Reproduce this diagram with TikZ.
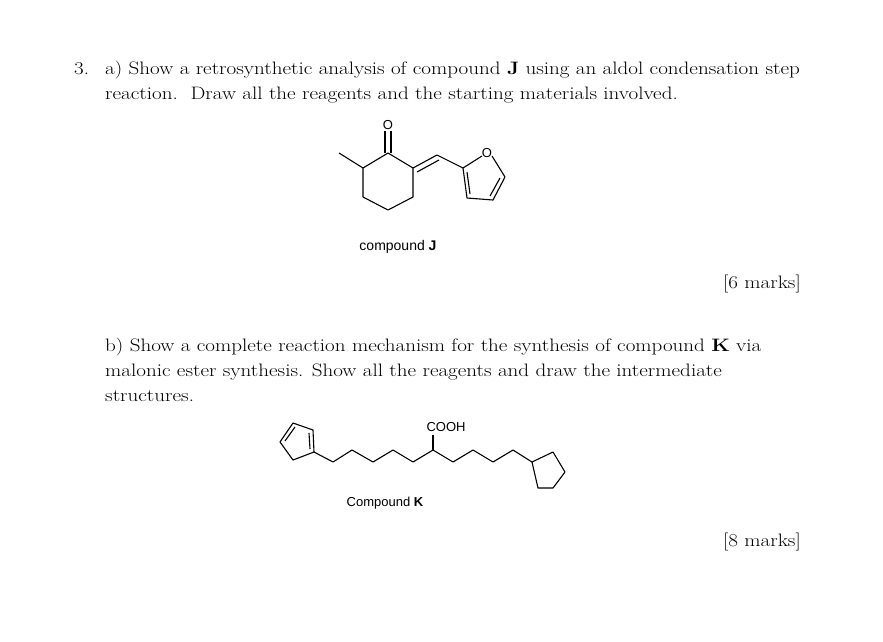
\documentclass[tikz,border=0pt]{standalone}
\usepackage{fontspec}
\usepackage{graphicx}
\setsansfont{Liberation Sans}
\newcommand{\widetxt}[1]{\scalebox{1.17}[1]{#1}}
\begin{document}
\begin{tikzpicture}[x=1pt,y=-1pt,
  bond/.style={line width=1.1pt,line join=round},
  txt/.style={anchor=base west,inner sep=0pt,font=\fontsize{18}{25}\selectfont},
  lab/.style={inner sep=0pt,font=\sffamily\fontsize{14}{16}\selectfont}]
\useasboundingbox (0,0) rectangle (883,641);
\node[txt] (n3) at (74,74) {\widetxt{3.}};
\node[txt] (a1) at (105,74) {\widetxt{a) Show a retrosynthetic analysis of compound \textbf{J} using an aldol condensation step}};
\node[txt] (a2) at (105,99) {\widetxt{reaction.\ \ Draw all the reagents and the starting materials involved.}};
\node[txt,anchor=base east] (m1) at (801,288) {\widetxt{[6 marks]}};
\node[txt] (b1) at (105,351) {\widetxt{b) Show a complete reaction mechanism for the synthesis of compound \textbf{K} via}};
\node[txt] (b2) at (105,376) {\widetxt{malonic ester synthesis. Show all the reagents and draw the intermediate}};
\node[txt] (b3) at (105,401) {\widetxt{structures.}};
\node[txt,anchor=base east] (m2) at (801,546) {\widetxt{[8 marks]}};
% compound J
\node[lab] (lj) at (398,247) {compound \textbf{J}};
\draw[bond] (363,168) -- (388,153) -- (413,168) -- (413,197) -- (388,210) -- (363,197) -- cycle;
\draw[bond] (339,153) -- (363,168);
\draw[bond] (385,153) -- (385,131); \draw[bond] (391,153) -- (391,131);
\node[lab,font=\sffamily\fontsize{13}{15}\selectfont] (oj) at (388,125) {O};
\draw[bond] (413,168) -- (437,155) -- (463,168);
\draw[bond] (417,172) -- (439,160);
\draw[bond] (463,168) -- (482,156); \draw[bond] (492,156) -- (505,177) -- (493,200) -- (467,198) -- (463,168);
\draw[bond] (470,194) -- (467,172);
\draw[bond] (500,178) -- (490,196);
\node[lab,font=\sffamily\fontsize{13}{15}\selectfont] (of) at (487,153) {O};
% compound K
\draw[bond] (280,442) -- (293,423) -- (313,430) -- (314,452) -- (293,460) -- cycle;
\draw[bond] (285,441) -- (295,427);
\draw[bond] (309,433) -- (310,449);
\draw[bond] (314,452) -- (333,462) -- (352,450) -- (373,462) -- (393,450) -- (413,462) -- (433,450) -- (453,462) -- (473,450) -- (493,462) -- (513,450) -- (532,462);
\draw[bond] (433,450) -- (433,435);
\node[lab,font=\sffamily\fontsize{13}{15}\selectfont] (cooh) at (446,427) {COOH};
\draw[bond] (532,462) -- (553,452) -- (565,472) -- (553,488) -- (538,488) -- cycle;
\node[lab,font=\sffamily\fontsize{13}{15}\selectfont] (lk) at (385,503) {Compound \textbf{K}};
\end{tikzpicture}
\end{document}
